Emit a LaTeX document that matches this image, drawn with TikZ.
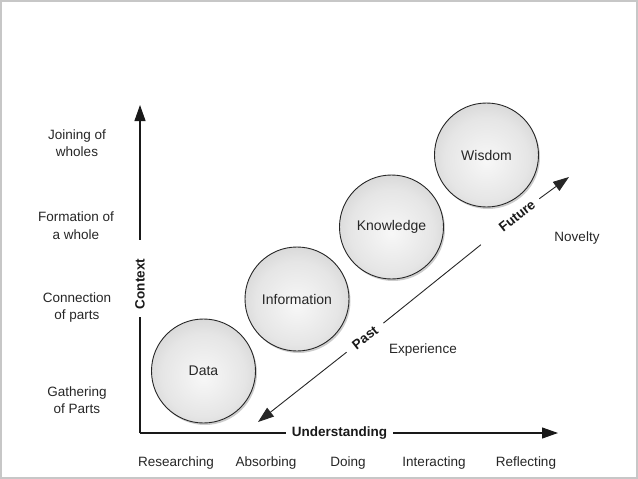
\documentclass[tikz,border=0pt]{standalone}
\usepackage{fontspec}
\setmainfont{Liberation Sans}
\usetikzlibrary{arrows.meta,shadows}

% shading of the spheres
\pgfdeclareradialshading{sphere}{\pgfpoint{0bp}{-3bp}}{%
  color(0bp)=(black!3); color(20bp)=(black!10); color(40bp)=(black!24); color(50bp)=(black!36); color(60bp)=(black!36)}

\tikzset{
  lbl/.style={font=\fontsize{13.5}{17.5}\selectfont, text=black!85, align=center},
  title/.style={font=\bfseries\fontsize{13.5}{17.5}\selectfont, text=black!90, inner sep=1pt},
  axis/.style={black!90, line width=1.1pt},
  tip/.style={-{Triangle[length=16pt,width=11pt]}},
  ball/.style={circle, draw=black!85, line width=0.9pt, minimum size=104pt, inner sep=0pt,
    shading=sphere, drop shadow={shadow xshift=1.5pt, shadow yshift=-2pt, opacity=0.4},
    font=\fontsize{14}{17.5}\selectfont, text=black!85}
}

\begin{document}
\begin{tikzpicture}[x=1pt,y=-1pt]

	% Frame
	\useasboundingbox (0,0) rectangle (638,479);
	\draw[black!22, line width=2pt] (1,1) rectangle (637,478);

	% Axes
	\coordinate (origin) at (140,433);
	\coordinate (ytop) at (140,105);
	\coordinate (xend) at (558,433);
	\node[title, rotate=90] (context) at (140,284) {Context};
	\node[title] (understanding) at (339.5,433) {Understanding};
	\draw[axis, shorten >=7pt] (origin) -- (context.west);
	\draw[axis, shorten >=5pt] (origin) -- (understanding.west);
	\draw[axis, tip, shorten <=18pt] (context.east) -- (ytop);
	\draw[axis, tip, shorten <=5pt] (understanding.east) -- (xend);

	% Context levels
	\node[lbl] (joining) at (77,143) {Joining of\\wholes};
	\node[lbl] (formation) at (76,225.5) {Formation of\\a whole};
	\node[lbl] (connection) at (77,307.5) {Connection\\of parts};
	\node[lbl] (gathering) at (77,400) {Gathering\\of Parts};

	% Understanding levels
	\node[lbl] (researching) at (176,463) {Researching};
	\node[lbl] (absorbing) at (266,463) {Absorbing};
	\node[lbl] (doing) at (348,463) {Doing};
	\node[lbl] (interacting) at (434,463) {Interacting};
	\node[lbl] (reflecting) at (526,463) {Reflecting};

	% Time line
	\coordinate (pastend) at (258,422);
	\coordinate (futureend) at (569,177);
	\node[title, rotate=38.2] (past) at (365,337.7) {Past};
	\node[title, rotate=38.2] (future) at (517,216) {Future};
	\draw[black!85, line width=0.9pt, {Triangle[length=16pt,width=11pt]}-, shorten >=8pt] (pastend) -- (past.west);
	\draw[black!85, line width=0.9pt, shorten <=8pt, shorten >=24pt] (past.east) -- (future.west);
	\draw[black!85, line width=0.9pt, tip, shorten <=6pt] (future.east) -- (futureend);
	\node[lbl] (experience) at (423,350) {Experience};
	\node[lbl] (novelty) at (577,238) {Novelty};

	% Spheres
	\node[ball] (data) at (203.5,371) {Data};
	\node[ball] (information) at (297,299) {Information};
	\node[ball] (knowledge) at (391.5,227) {Knowledge};
	\node[ball] (wisdom) at (486.5,155) {Wisdom};

\end{tikzpicture}
\end{document}
